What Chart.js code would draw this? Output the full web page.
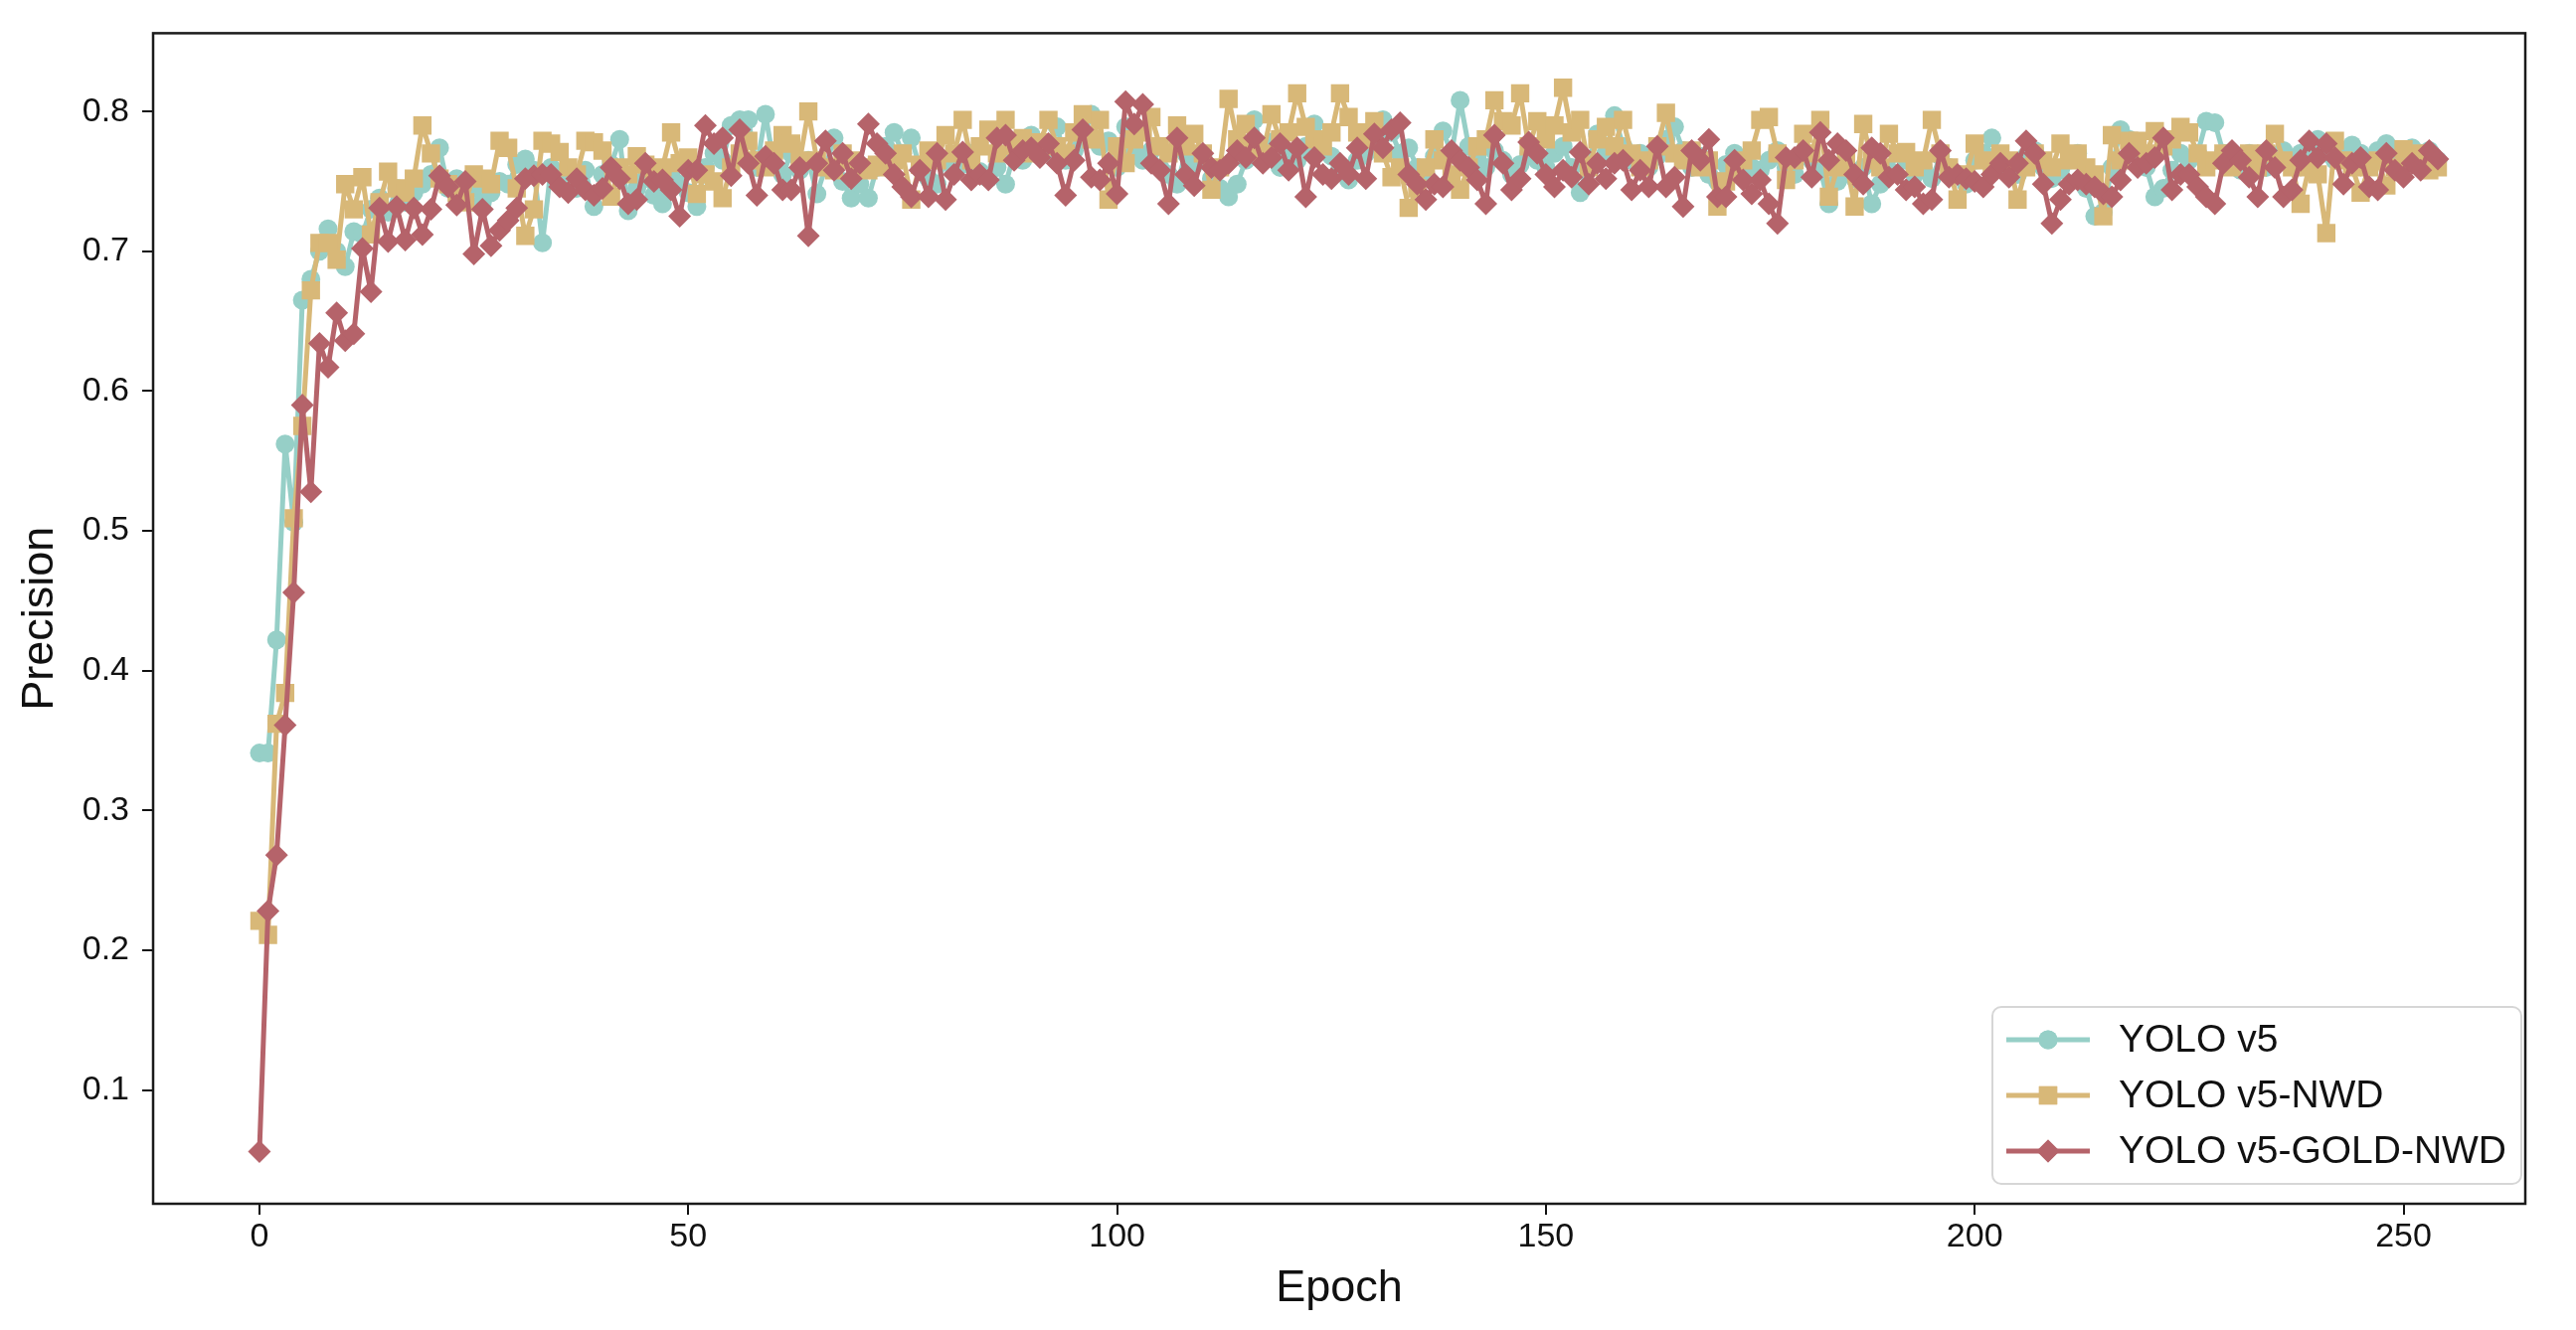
<!DOCTYPE html>
<html>
<head>
<meta charset="utf-8">
<script src="https://cdn.jsdelivr.net/npm/chart.js@4.4.1/dist/chart.umd.min.js"></script>
<style>
  html, body { margin: 0; padding: 0; background: #ffffff; }
  #wrap { width: 2591px; height: 1338px; position: relative; }
  canvas { display: block; }
</style>
</head>
<body>
<div id="wrap"><canvas id="c" width="2591" height="1338"></canvas></div>
<script>
// ---------- DATA ----------
const seriesNames = ['YOLO v5', 'YOLO v5-NWD', 'YOLO v5-GOLD-NWD'];
const xTickValues = [0, 50, 100, 150, 200, 250];
const yTickValues = [0.1, 0.2, 0.3, 0.4, 0.5, 0.6, 0.7, 0.8];

const yolov5 = [
0.341,0.341,0.422,0.562,0.506,0.665,0.680,0.700,0.716,0.700,
0.689,0.714,0.712,0.730,0.738,0.728,0.745,0.735,0.742,0.748,
0.755,0.774,0.745,0.752,0.740,0.745,0.735,0.742,0.750,0.748,
0.762,0.766,0.758,0.706,0.760,0.748,0.752,0.745,0.758,0.732,
0.755,0.762,0.780,0.729,0.745,0.752,0.740,0.734,0.755,0.748,
0.742,0.732,0.760,0.770,0.765,0.790,0.794,0.794,0.760,0.798,
0.762,0.755,0.770,0.758,0.765,0.741,0.760,0.781,0.750,0.738,
0.748,0.738,0.760,0.775,0.785,0.770,0.781,0.760,0.752,0.748,
0.765,0.758,0.762,0.770,0.757,0.752,0.760,0.748,0.770,0.765,
0.783,0.775,0.770,0.789,0.765,0.772,0.780,0.798,0.775,0.779,
0.760,0.789,0.770,0.765,0.772,0.760,0.755,0.748,0.770,0.762,
0.768,0.752,0.745,0.739,0.748,0.765,0.794,0.770,0.778,0.760,
0.770,0.765,0.775,0.791,0.772,0.768,0.760,0.751,0.765,0.770,
0.778,0.794,0.785,0.770,0.774,0.760,0.755,0.768,0.786,0.770,
0.808,0.775,0.768,0.760,0.772,0.765,0.755,0.762,0.770,0.765,
0.760,0.770,0.775,0.760,0.742,0.765,0.784,0.770,0.797,0.775,
0.765,0.770,0.760,0.768,0.780,0.789,0.772,0.760,0.768,0.755,
0.750,0.762,0.770,0.765,0.760,0.758,0.765,0.772,0.760,0.755,
0.770,0.765,0.758,0.734,0.750,0.760,0.752,0.760,0.734,0.748,
0.758,0.770,0.765,0.755,0.760,0.752,0.768,0.760,0.755,0.748,
0.765,0.770,0.781,0.765,0.760,0.755,0.768,0.772,0.760,0.752,
0.758,0.765,0.770,0.745,0.725,0.728,0.760,0.787,0.780,0.770,
0.760,0.739,0.745,0.758,0.770,0.765,0.770,0.793,0.792,0.770,
0.765,0.758,0.770,0.765,0.760,0.768,0.772,0.765,0.770,0.775,
0.780,0.770,0.765,0.772,0.776,0.770,0.765,0.772,0.777,0.770,
0.768,0.774,0.770,0.772,0.765
];

const yolov5nwd = [
0.221,0.211,0.362,0.384,0.509,0.575,0.672,0.706,0.706,0.694,
0.748,0.730,0.753,0.712,0.735,0.757,0.745,0.742,0.752,0.790,
0.770,0.752,0.748,0.742,0.735,0.755,0.752,0.748,0.779,0.774,
0.745,0.711,0.730,0.779,0.777,0.771,0.760,0.755,0.779,0.778,
0.772,0.739,0.760,0.755,0.768,0.762,0.755,0.760,0.785,0.763,
0.767,0.741,0.755,0.750,0.738,0.760,0.770,0.779,0.765,0.760,
0.772,0.783,0.777,0.765,0.800,0.765,0.760,0.758,0.770,0.765,
0.760,0.758,0.762,0.760,0.765,0.770,0.737,0.762,0.772,0.765,
0.783,0.770,0.794,0.765,0.775,0.787,0.770,0.794,0.775,0.781,
0.770,0.778,0.794,0.775,0.770,0.785,0.798,0.780,0.794,0.737,
0.775,0.763,0.780,0.785,0.796,0.775,0.770,0.790,0.775,0.784,
0.770,0.744,0.760,0.809,0.780,0.791,0.775,0.770,0.798,0.780,
0.785,0.813,0.789,0.780,0.775,0.785,0.813,0.796,0.785,0.780,
0.793,0.770,0.753,0.760,0.731,0.745,0.760,0.780,0.765,0.755,
0.744,0.760,0.775,0.780,0.808,0.793,0.790,0.813,0.775,0.793,
0.780,0.790,0.817,0.785,0.794,0.760,0.780,0.789,0.775,0.794,
0.770,0.760,0.765,0.775,0.799,0.770,0.765,0.772,0.760,0.765,
0.732,0.750,0.760,0.765,0.772,0.794,0.796,0.770,0.751,0.765,
0.784,0.770,0.794,0.739,0.760,0.765,0.732,0.791,0.765,0.760,
0.784,0.770,0.771,0.760,0.765,0.794,0.770,0.760,0.737,0.755,
0.777,0.765,0.760,0.770,0.765,0.737,0.760,0.770,0.765,0.760,
0.777,0.765,0.770,0.760,0.755,0.725,0.783,0.765,0.779,0.779,
0.770,0.786,0.775,0.780,0.789,0.785,0.770,0.760,0.765,0.770,
0.760,0.765,0.770,0.760,0.770,0.784,0.765,0.760,0.734,0.760,
0.755,0.713,0.779,0.765,0.760,0.742,0.760,0.765,0.747,0.760,
0.773,0.765,0.770,0.758,0.760
];

const yolov5goldnwd = [
0.056,0.228,0.268,0.361,0.456,0.590,0.528,0.634,0.617,0.656,
0.636,0.641,0.702,0.671,0.731,0.707,0.732,0.708,0.731,0.712,
0.730,0.754,0.746,0.733,0.750,0.698,0.730,0.704,0.715,0.722,
0.731,0.752,0.754,0.755,0.755,0.746,0.742,0.752,0.744,0.740,
0.745,0.760,0.752,0.734,0.737,0.763,0.750,0.751,0.744,0.725,
0.758,0.758,0.790,0.777,0.781,0.754,0.787,0.763,0.740,0.768,
0.763,0.744,0.744,0.760,0.711,0.763,0.779,0.758,0.770,0.752,
0.763,0.791,0.777,0.770,0.755,0.746,0.739,0.758,0.739,0.770,
0.737,0.755,0.771,0.751,0.755,0.751,0.781,0.783,0.765,0.772,
0.774,0.767,0.777,0.763,0.740,0.765,0.787,0.753,0.751,0.763,
0.741,0.807,0.791,0.805,0.763,0.758,0.734,0.781,0.755,0.747,
0.770,0.760,0.758,0.763,0.772,0.767,0.781,0.763,0.767,0.777,
0.758,0.774,0.739,0.767,0.755,0.752,0.763,0.755,0.774,0.752,
0.784,0.774,0.787,0.792,0.755,0.748,0.737,0.748,0.746,0.772,
0.765,0.760,0.751,0.734,0.783,0.763,0.744,0.752,0.778,0.770,
0.755,0.746,0.758,0.753,0.771,0.748,0.763,0.752,0.763,0.765,
0.744,0.758,0.746,0.775,0.746,0.753,0.732,0.772,0.765,0.780,
0.739,0.739,0.765,0.751,0.741,0.751,0.734,0.720,0.767,0.767,
0.772,0.753,0.785,0.765,0.777,0.772,0.755,0.748,0.774,0.770,
0.753,0.755,0.744,0.746,0.734,0.737,0.772,0.753,0.755,0.752,
0.750,0.746,0.755,0.763,0.753,0.763,0.779,0.770,0.748,0.720,
0.737,0.748,0.751,0.748,0.746,0.741,0.739,0.751,0.770,0.760,
0.763,0.767,0.781,0.744,0.755,0.755,0.746,0.739,0.734,0.763,
0.772,0.765,0.753,0.739,0.772,0.760,0.739,0.744,0.765,0.779,
0.767,0.777,0.767,0.748,0.763,0.767,0.746,0.744,0.770,0.758,
0.753,0.763,0.758,0.772,0.766
];

// ---------- STYLE ----------
const COLORS = ['#96CFC7', '#D8B878', '#B5636A'];
const FONT = '"Liberation Sans", Arial, Helvetica, sans-serif';

function toPoints(arr) { return arr.map((v, i) => ({ x: i, y: v })); }

const datasets = [
  { label: seriesNames[0], data: toPoints(yolov5), borderColor: COLORS[0], backgroundColor: COLORS[0],
    pointStyle: 'circle', pointRadius: 9.5, order: 3 },
  { label: seriesNames[1], data: toPoints(yolov5nwd), borderColor: COLORS[1], backgroundColor: COLORS[1],
    pointStyle: 'rect', pointRadius: 13, order: 2 },
  { label: seriesNames[2], data: toPoints(yolov5goldnwd), borderColor: COLORS[2], backgroundColor: COLORS[2],
    pointStyle: 'rectRot', pointRadius: 11.5, order: 1 }
].map(d => Object.assign(d, {
  borderWidth: 5, pointBorderWidth: 0, pointHoverRadius: d.pointRadius,
  pointBackgroundColor: d.backgroundColor, fill: false, tension: 0
}));

const framePlugin = {
  id: 'frame',
  afterDatasetsDraw(chart) {
    const { ctx, chartArea: a } = chart;
    ctx.save();
    ctx.strokeStyle = '#1a1a1a';
    ctx.lineWidth = 2.5;
    ctx.strokeRect(a.left, a.top, a.right - a.left, a.bottom - a.top);
    ctx.restore();
  }
};

const legendPlugin = {
  id: 'innerLegend',
  afterDraw(chart) {
    const { ctx } = chart;
    const bx = 2004, by = 1013, bw = 532, bh = 178, r = 9;
    ctx.save();
    ctx.beginPath();
    ctx.moveTo(bx + r, by);
    ctx.arcTo(bx + bw, by, bx + bw, by + bh, r);
    ctx.arcTo(bx + bw, by + bh, bx, by + bh, r);
    ctx.arcTo(bx, by + bh, bx, by, r);
    ctx.arcTo(bx, by, bx + bw, by, r);
    ctx.closePath();
    ctx.fillStyle = 'rgba(255,255,255,0.85)';
    ctx.fill();
    ctx.strokeStyle = '#d6d6d6';
    ctx.lineWidth = 2;
    ctx.stroke();
    const rows = [1046, 1102, 1158];
    chart.data.datasets.forEach((ds, i) => {
      const y = rows[i];
      ctx.strokeStyle = ds.borderColor;
      ctx.lineWidth = 5;
      ctx.beginPath();
      ctx.moveTo(2018, y);
      ctx.lineTo(2102, y);
      ctx.stroke();
      ctx.fillStyle = ds.backgroundColor;
      Chart.helpers.drawPoint(ctx, { pointStyle: ds.pointStyle, radius: ds.pointRadius, rotation: 0, borderWidth: 0 }, 2060, y);
      ctx.fill();
      ctx.fillStyle = '#111';
      ctx.font = '39px ' + FONT;
      ctx.textBaseline = 'middle';
      ctx.textAlign = 'left';
      ctx.fillText(ds.label, 2131, y + 1);
    });
    ctx.restore();
  }
};

new Chart(document.getElementById('c'), {
  type: 'line',
  data: { datasets },
  options: {
    responsive: false,
    animation: false,
    devicePixelRatio: 1,
    layout: { padding: { left: 0, top: 28, right: 51, bottom: 0 } },
    plugins: { legend: { display: false }, tooltip: { enabled: false } },
    elements: { line: { borderJoinStyle: 'round', borderCapStyle: 'round' } },
    scales: {
      x: {
        type: 'linear',
        min: -12.4, max: 264.2,
        afterBuildTicks: s => { s.ticks = xTickValues.map(v => ({ value: v })); },
        afterFit: s => { s.height = 127; },
        border: { display: false },
        grid: { display: true, drawOnChartArea: false, drawTicks: true, tickLength: 11, tickWidth: 2, tickColor: '#111', lineWidth: 2 },
        ticks: { color: '#111', font: { family: FONT, size: 34 }, padding: 2, maxRotation: 0, autoSkip: false },
        title: { display: true, text: 'Epoch', color: '#111', font: { family: FONT, size: 45 }, padding: { top: 0, bottom: 14 } }
      },
      y: {
        type: 'linear',
        min: 0.0186, max: 0.856,
        afterBuildTicks: s => { s.ticks = yTickValues.map(v => ({ value: v })); },
        afterFit: s => { s.width = 154; },
        border: { display: false },
        grid: { display: true, drawOnChartArea: false, drawTicks: true, tickLength: 11, tickWidth: 2, tickColor: '#111', lineWidth: 2 },
        ticks: { color: '#111', font: { family: FONT, size: 34 }, padding: 13, callback: v => v.toFixed(1) },
        title: { display: true, text: 'Precision', color: '#111', font: { family: FONT, size: 45 }, padding: { top: 14, bottom: 0 } }
      }
    }
  },
  plugins: [framePlugin, legendPlugin]
});
</script>
</body>
</html>
